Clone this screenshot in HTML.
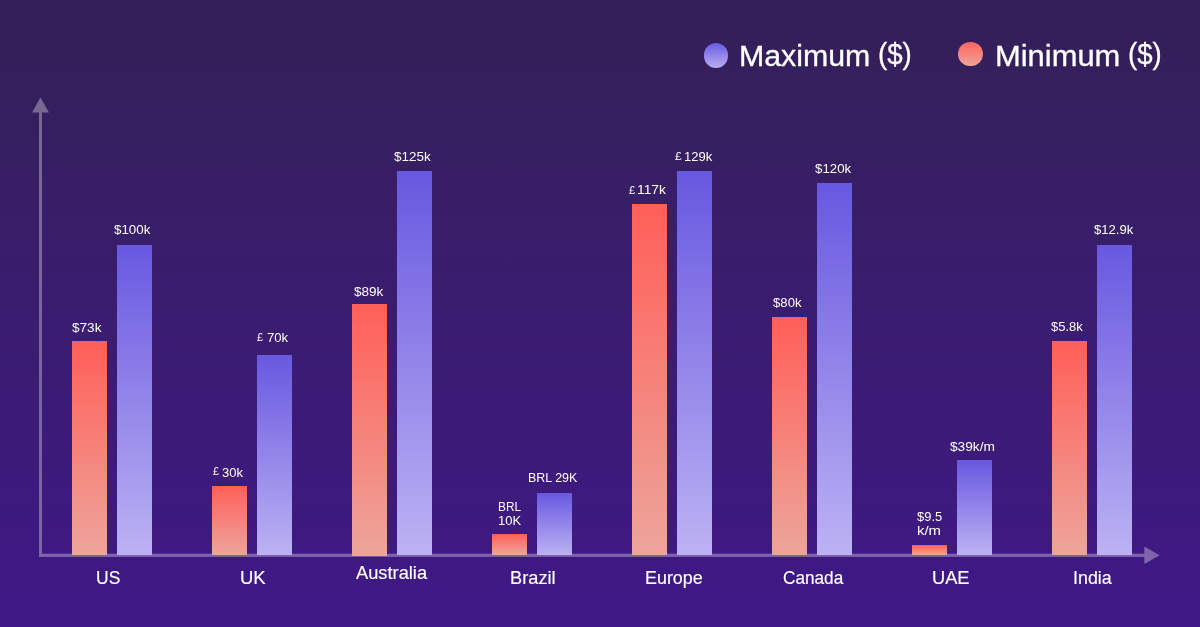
<!DOCTYPE html>
<html><head><meta charset="utf-8"><title>Salary chart</title>
<style>
html,body{margin:0;padding:0}
body{width:1200px;height:627px;overflow:hidden;position:relative;
 background:linear-gradient(180deg,#341f59 0%,#351f5d 16%,#381e67 32%,#3f1887 100%);
 font-family:"Liberation Sans",sans-serif;color:#fff}
.bar{position:absolute;width:35px}
.r{background:linear-gradient(180deg,#ff5f58 0%,#eda59b 100%)}
.b{background:linear-gradient(180deg,#6858e0 0%,#bcb2f3 100%)}
.t{position:absolute;white-space:nowrap;transform-origin:0 50%}
#tx{position:absolute;left:0;top:0;width:1200px;height:627px;will-change:opacity}
.v{font-size:13.3px;line-height:20px;height:20px}
.p{font-size:11px;line-height:20px;height:20px}
.c{font-size:19px;line-height:30px;height:30px;-webkit-text-stroke:0.15px #fff}
.lg{font-size:28.7px;line-height:44px;height:44px;-webkit-text-stroke:0.3px #fff}
.dot{position:absolute;width:24.6px;height:24.6px;border-radius:50%}
svg{position:absolute;left:0;top:0}
</style></head><body>
<svg width="1200" height="627" viewBox="0 0 1200 627">
 <g fill="#fff" opacity="0.325" stroke="none">
  <rect x="39" y="110" width="3" height="447"/>
  <rect x="39" y="553.7" width="1106" height="3.2"/>
  <polygon points="40.5,97.5 32,112.6 49,112.6"/>
  <polygon points="1159.6,555.3 1144.3,546.5 1144.3,564.1"/>
 </g>
</svg>
<div class="bar r" style="left:72px;top:341px;height:214.0px"></div>
<div class="bar b" style="left:117px;top:245px;height:310.0px"></div>
<div class="bar r" style="left:212px;top:486.1px;height:68.9px"></div>
<div class="bar b" style="left:257px;top:354.5px;height:200.5px"></div>
<div class="bar r" style="left:352px;top:304px;height:252.3px"></div>
<div class="bar b" style="left:397px;top:171px;height:384.4px"></div>
<div class="bar r" style="left:492px;top:534.1px;height:20.9px"></div>
<div class="bar b" style="left:537px;top:493.1px;height:61.9px"></div>
<div class="bar r" style="left:632px;top:204px;height:351.0px"></div>
<div class="bar b" style="left:677px;top:171px;height:384.0px"></div>
<div class="bar r" style="left:772px;top:317px;height:238.0px"></div>
<div class="bar b" style="left:817px;top:183px;height:372.0px"></div>
<div class="bar r" style="left:912px;top:545px;height:10.0px"></div>
<div class="bar b" style="left:957px;top:460.2px;height:94.8px"></div>
<div class="bar r" style="left:1052px;top:341px;height:214.0px"></div>
<div class="bar b" style="left:1097px;top:245px;height:310.0px"></div>
<div id="tx">
<div class="t v" id="v1" style="left:72.38px;top:318.00px;transform:scaleX(1.0217)">$73k</div>
<div class="t v" id="v2" style="left:114.11px;top:220.00px;transform:scaleX(1.0037)">$100k</div>
<div class="t p" id="p3" style="left:213.48px;top:461.00px;transform:scaleX(0.9713)">£</div>
<div class="t v" id="v3" style="left:221.89px;top:463.00px;transform:scaleX(0.9802)">30k</div>
<div class="t p" id="p4" style="left:257.35px;top:327.00px;transform:scaleX(0.9883)">£</div>
<div class="t v" id="v4" style="left:266.71px;top:328.00px;transform:scaleX(0.9877)">70k</div>
<div class="t v" id="v5" style="left:353.84px;top:282.00px;transform:scaleX(1.0193)">$89k</div>
<div class="t v" id="v6" style="left:394.47px;top:147.00px;transform:scaleX(1.0119)">$125k</div>
<div class="t v" id="v7" style="left:498.04px;top:497.00px;transform:scaleX(0.8901)">BRL</div>
<div class="t v" id="v8" style="left:498.20px;top:511.00px;transform:scaleX(0.9759)">10K</div>
<div class="t v" id="v9" style="left:528.27px;top:468.00px;transform:scaleX(0.9357)">BRL 29K</div>
<div class="t p" id="p10" style="left:628.65px;top:180.00px;transform:scaleX(1.0051)">£</div>
<div class="t v" id="v10" style="left:637.31px;top:180.00px;transform:scaleX(1.0360)">117k</div>
<div class="t p" id="p11" style="left:674.91px;top:146.00px;transform:scaleX(1.0861)">£</div>
<div class="t v" id="v11" style="left:684.19px;top:147.00px;transform:scaleX(0.9844)">129k</div>
<div class="t v" id="v12" style="left:773.20px;top:293.00px;transform:scaleX(0.9895)">$80k</div>
<div class="t v" id="v13" style="left:815.02px;top:159.00px;transform:scaleX(0.9995)">$120k</div>
<div class="t v" id="v14" style="left:916.68px;top:507.00px;transform:scaleX(0.9755)">$9.5</div>
<div class="t v" id="v15" style="left:917.40px;top:521.00px;transform:scaleX(1.1176)">k/m</div>
<div class="t v" id="v16" style="left:949.80px;top:437.00px;transform:scaleX(1.0298)">$39k/m</div>
<div class="t v" id="v17" style="left:1051.48px;top:317.00px;transform:scaleX(0.9771)">$5.8k</div>
<div class="t v" id="v18" style="left:1094.25px;top:220.00px;transform:scaleX(0.9849)">$12.9k</div>
<div class="t c" id="c1" style="left:95.82px;top:563.00px;transform:scaleX(0.9209)">US</div>
<div class="t c" id="c2" style="left:239.90px;top:563.00px;transform:scaleX(0.9747)">UK</div>
<div class="t c" id="c3" style="left:356.08px;top:558.00px;transform:scaleX(0.9618)">Australia</div>
<div class="t c" id="c4" style="left:510.44px;top:563.00px;transform:scaleX(0.9599)">Brazil</div>
<div class="t c" id="c5" style="left:644.94px;top:563.00px;transform:scaleX(0.9425)">Europe</div>
<div class="t c" id="c6" style="left:783.13px;top:563.00px;transform:scaleX(0.9048)">Canada</div>
<div class="t c" id="c7" style="left:932.06px;top:563.00px;transform:scaleX(0.9586)">UAE</div>
<div class="t c" id="c8" style="left:1072.62px;top:563.00px;transform:scaleX(0.9409)">India</div>
<div class="t lg" id="l1" style="left:738.91px;top:34.00px;transform:scaleX(1.0568)">Maximum</div>
<div class="t lg" id="l2" style="left:878.14px;top:32.00px;transform:scaleX(0.9638)">($)</div>
<div class="t lg" id="l3" style="left:994.86px;top:34.00px;transform:scaleX(1.0776)">Minimum</div>
<div class="t lg" id="l4" style="left:1127.76px;top:32.00px;transform:scaleX(0.9617)">($)</div>
</div>
<div class="dot" style="left:703.76px;top:43.16px;background:linear-gradient(180deg,#6a5ce2,#b9aef2)"></div>
<div class="dot" style="left:958.16px;top:41.72px;background:linear-gradient(180deg,#ff6660,#eea399)"></div>
</body></html>
